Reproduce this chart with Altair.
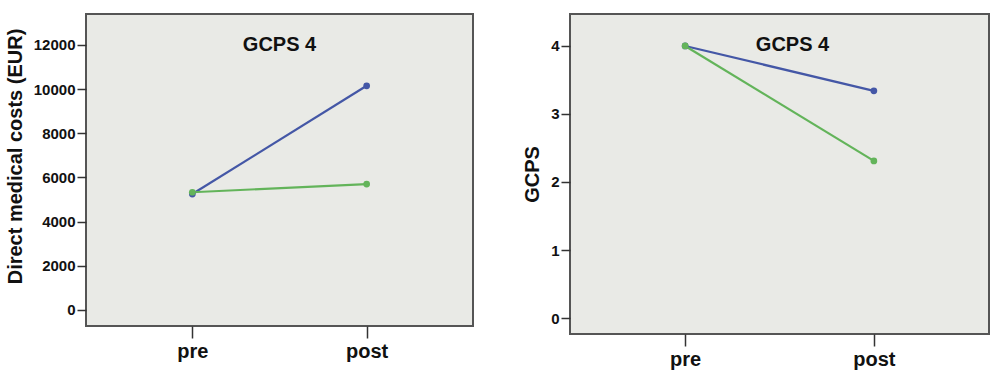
import altair as alt
import pandas as pd

times = ["pre", "post"]
groups = ["A", "B"]
cost_blue = [5250, 10150]
cost_green = [5330, 5700]
gcps_blue = [4.0, 3.34]
gcps_green = [4.0, 2.31]
colors = ["#4457A6", "#63B45A"]

rows = []
for i, t in enumerate(times):
    rows.append({"time": t, "group": "A", "cost": cost_blue[i], "gcps": gcps_blue[i]})
    rows.append({"time": t, "group": "B", "cost": cost_green[i], "gcps": gcps_green[i]})
df = pd.DataFrame(rows)

FONT = "Liberation Sans"

def panel(field, title, domain, ticks, w, h, padding, title_dx, title_y):
    xenc = alt.X("time:N", sort=times,
                 scale=alt.Scale(type="point", padding=padding),
                 axis=alt.Axis(title=None, labelAngle=0, tickSize=12, domain=False,
                               labelFontSize=20, labelPadding=3, labelFont=FONT,
                               labelFontWeight="bold", labelColor="#111", tickColor="#333",
                               tickWidth=1.5))
    yaxis = dict(title=title, values=ticks, grid=False, domain=False, format="d",
                 tickSize=9, tickColor="#333", tickWidth=1.5,
                 labelFontSize=15, labelFont=FONT, labelFontWeight="bold",
                 labelColor="#111", labelPadding=2,
                 titleFontSize=20, titleFont=FONT, titleFontWeight="bold",
                 titleColor="#111", titlePadding=8)
    if title_y is not None:
        yaxis["titleY"] = title_y
    yenc = alt.Y(f"{field}:Q", scale=alt.Scale(domain=domain, nice=False, zero=False),
                 axis=alt.Axis(**yaxis))
    color = alt.Color("group:N", scale=alt.Scale(domain=groups, range=colors), legend=None)
    base = alt.Chart(df).encode(x=xenc, y=yenc, color=color)
    lines = base.mark_line(strokeWidth=2.2, clip=True).encode(detail="group:N")
    pts = base.mark_circle(size=45, opacity=1)
    ttl = alt.Chart(pd.DataFrame({"t": ["GCPS 4"]})).mark_text(
        font=FONT, fontSize=20, fontWeight="bold", color="#111"
    ).encode(text="t:N", x=alt.value(w / 2 + title_dx), y=alt.value(31))
    return alt.layer(lines, pts, ttl).properties(width=w, height=h)

left = panel("cost", "Direct medical costs  (EUR)", [-725, 13400],
             [0, 2000, 4000, 6000, 8000, 10000, 12000], 387, 312, 0.61, 0, 142)
right = panel("gcps", "GCPS", [-0.235, 4.47], [0, 1, 2, 3, 4], 419, 320, 0.61, 13, None)

chart = alt.hconcat(left, right, spacing=47).properties(
    padding={"left": 4, "top": 13, "right": 5, "bottom": 5},
    background="white",
).configure_view(
    stroke="#555", strokeWidth=2, fill="#E9EAE6"
)

chart.save("out.html", embed_options={"renderer": "svg", "actions": False})
